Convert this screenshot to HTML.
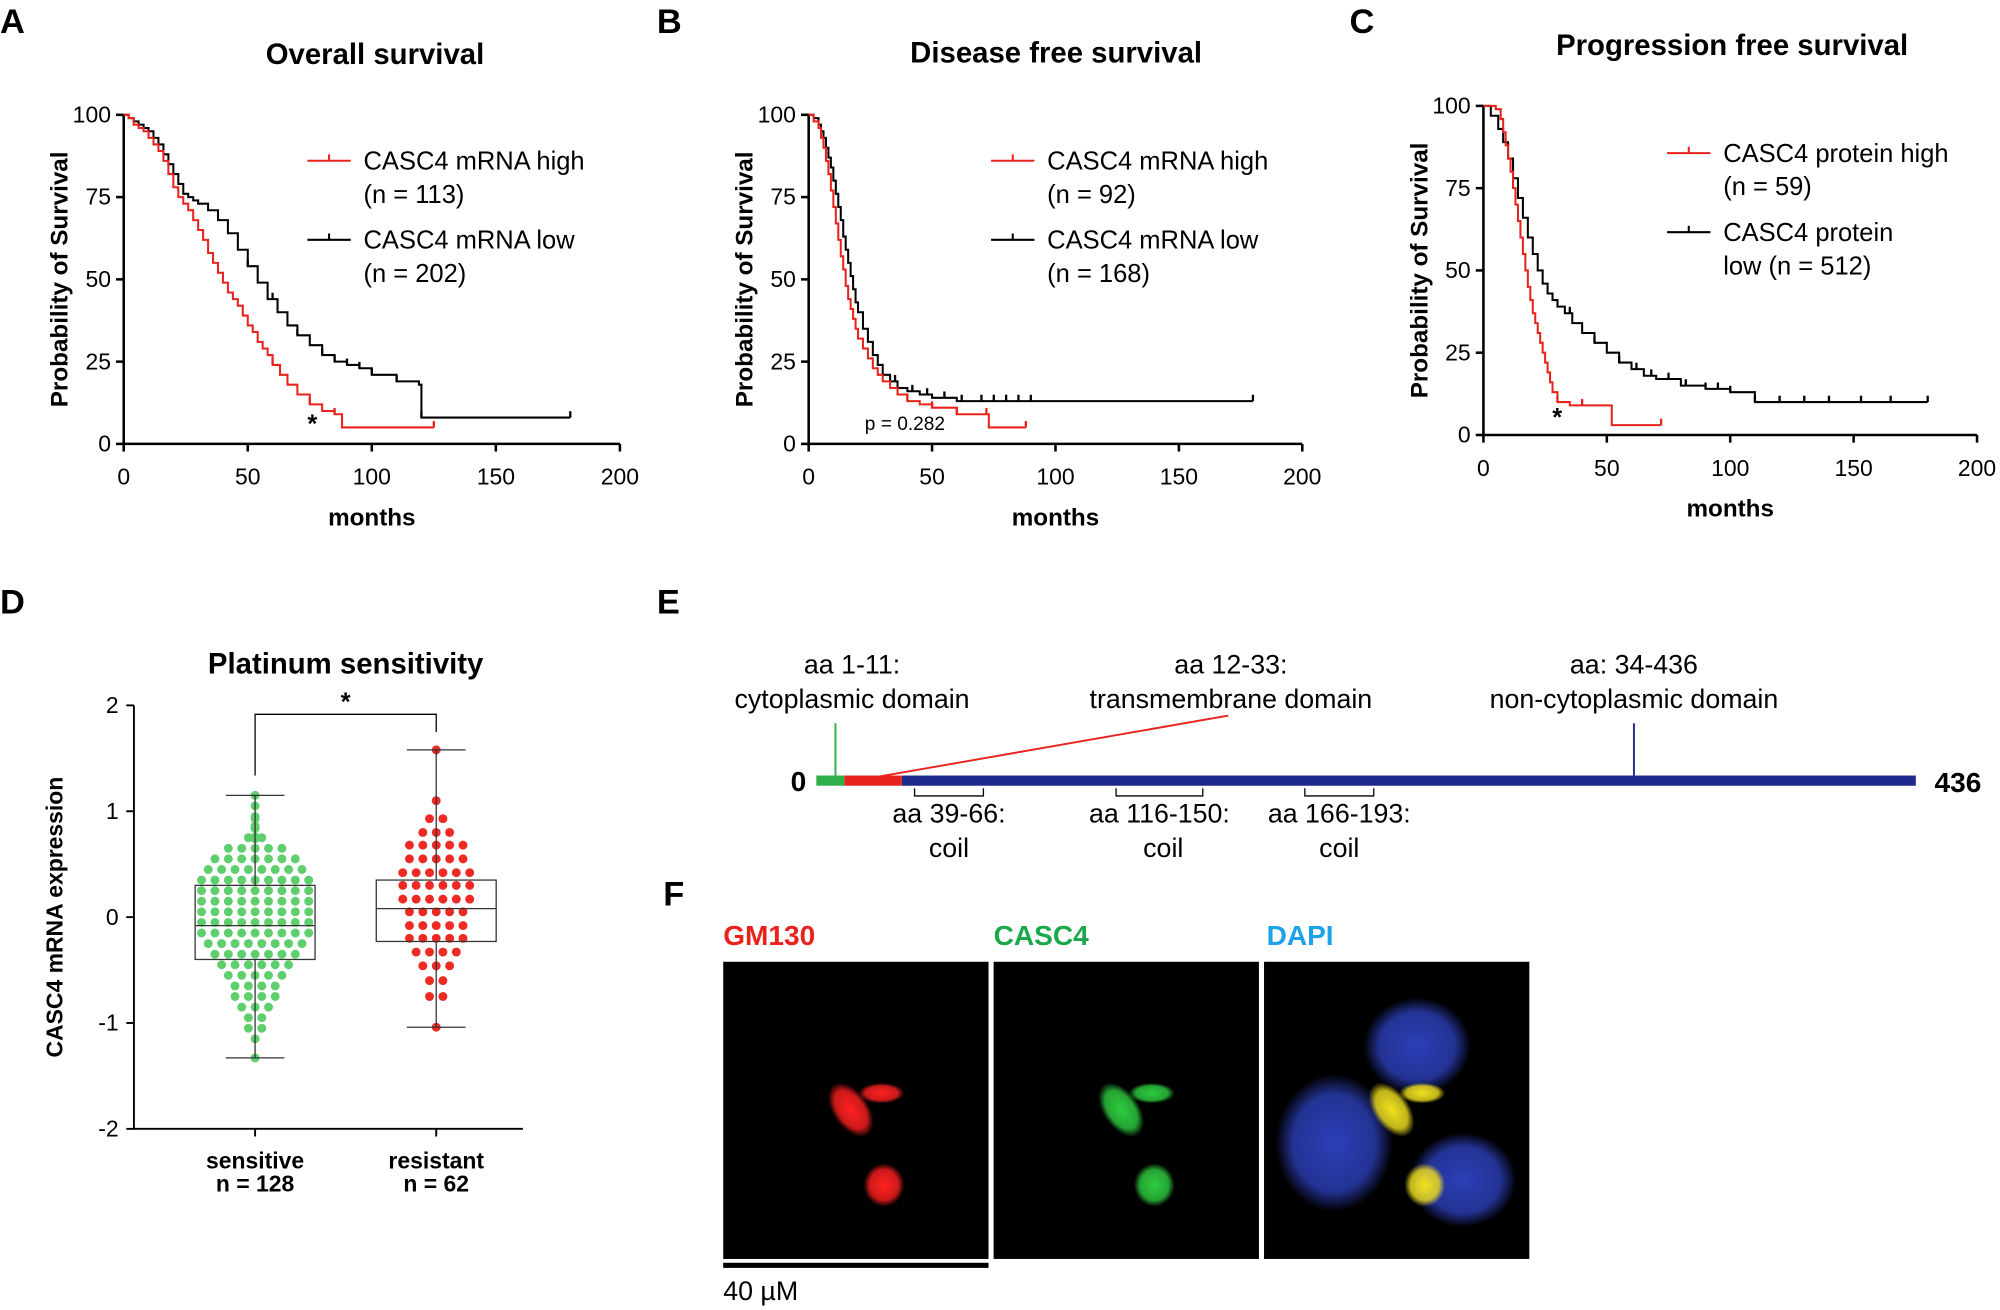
<!DOCTYPE html>
<html><head><meta charset="utf-8">
<style>
html,body{margin:0;padding:0;background:#fff;}
svg{display:block;font-family:"Liberation Sans",Arial,sans-serif;}
.t{font-size:23px;font-weight:bold;}
.tk{font-size:18px;}
.lab{font-size:19px;font-weight:bold;}
.lg{font-size:20px;}
.pl{font-size:27px;font-weight:bold;}
</style></head>
<body>
<svg id="fig" width="2000" height="1310" viewBox="0 0 1568 1027" xmlns="http://www.w3.org/2000/svg">
<g id="static" fill="#000">
<text class="pl" x="0" y="26">A</text>
<text class="pl" x="515" y="26">B</text>
<text class="pl" x="1058" y="26">C</text>
<text class="pl" x="0" y="481">D</text>
<text class="pl" x="515" y="481">E</text>
<text class="pl" x="520" y="710">F</text>

<text class="t" x="294" y="50" text-anchor="middle">Overall survival</text>
<text class="t" x="828" y="49" text-anchor="middle">Disease free survival</text>
<text class="t" x="1358" y="43" text-anchor="middle">Progression free survival</text>
<text class="t" x="271" y="528" text-anchor="middle">Platinum sensitivity</text>
</g>
<g id="dyn"></g>
</svg>
<script>
// ---- data ----
const xTicks = [0, 50, 100, 150, 200];
const yTicks = [0, 25, 50, 75, 100];
const aHighT = [0,2,4,6,8,10,12,14,16,18,20,22,24,26,28,30,32,34,36,38,40,42,44,46,48,50,52,54,56,58,60,63,66,70,75,80,85,88,90,125];
const aHighS = [100,99,97,96,95,93,91,89,86,82,78,75,73,71,68,65,62,58,55,52,49,46,44,42,39,36,34,31,29,27,24,21,18,15,12,10,9,5,5,5];
const aLowT = [0,2,4,6,8,10,12,14,16,18,20,22,24,26,28,30,34,38,42,46,50,54,58,62,66,70,75,80,85,90,95,100,110,119,120,180];
const aLowS = [100,99,98,97,96,95,93,91,88,85,82,79,76,75,74,73,71,68,64,59,54,49,44,40,36,33,30,27,25,24,23,21,19,18,8,8];
const aHighCens = [60,75,85,125];
const aLowCens = [50,60,70,80,85,90,95,100,110,120,180];
const bHighT = [0,2,4,5,6,7,8,9,10,11,12,13,14,15,16,17,18,19,20,22,24,26,28,30,33,36,40,45,50,60,72,73,88];
const bHighS = [100,98,96,93,90,86,82,77,72,67,62,57,53,48,44,41,38,35,32,29,26,23,21,19,17,15,13,12,11,9,9,5,5];
const bLowT = [0,2,4,5,6,7,8,9,10,11,12,13,14,15,16,17,18,19,20,22,24,26,28,30,33,36,40,45,50,60,80,180];
const bLowS = [100,99,97,95,93,90,87,84,80,76,72,68,63,59,55,51,47,43,40,35,31,27,24,21,19,17,16,15,14,13,13,13];
const bHighCens = [40,50,60,72,88];
const bLowCens = [35,42,48,55,62,70,75,80,85,90,180];
const cHighT = [0,5,7,8,9,10,11,12,13,14,15,16,17,18,19,20,21,22,23,24,25,26,27,28,30,35,50,52,72];
const cHighS = [100,99,96,92,88,84,80,75,70,65,60,55,50,45,41,37,34,31,28,25,22,19,16,13,10,9,9,3,3];
const cLowT = [0,3,6,8,10,12,14,16,18,20,22,24,26,28,30,33,36,40,45,50,55,60,65,70,80,90,100,110,180];
const cLowS = [100,97,93,89,84,78,72,66,60,55,50,46,43,41,39,37,34,31,28,25,22,20,18,17,15,14,13,10,10];
const cHighCens = [30,40,72];
const cLowCens = [35,45,55,62,68,75,82,90,95,100,110,120,130,140,153,165,180];
const dTicks = [-2,-1,0,1,2];
const sensVals = [1.15,1.05,0.95,0.93,0.85,0.84,0.86,0.75,0.74,0.76,0.75,
 0.65,0.65,0.65,0.65,0.65,0.55,0.55,0.55,0.55,0.55,0.55,0.55,
 0.45,0.45,0.45,0.45,0.45,0.45,0.45,0.45,
 0.35,0.35,0.35,0.35,0.35,0.35,0.35,0.35,0.35,
 0.25,0.25,0.25,0.25,0.25,0.25,0.25,0.25,0.25,
 0.15,0.15,0.15,0.15,0.15,0.15,0.15,0.15,0.15,
 0.05,0.05,0.05,0.05,0.05,0.05,0.05,0.05,0.05,
 -0.05,-0.05,-0.05,-0.05,-0.05,-0.05,-0.05,-0.05,-0.05,
 -0.15,-0.15,-0.15,-0.15,-0.15,-0.15,-0.15,-0.15,-0.15,
 -0.25,-0.25,-0.25,-0.25,-0.25,-0.25,-0.25,-0.25,
 -0.35,-0.35,-0.35,-0.35,-0.35,-0.35,-0.35,
 -0.45,-0.45,-0.45,-0.45,-0.45,-0.45,
 -0.55,-0.55,-0.55,-0.55,-0.55,-0.65,-0.65,-0.65,-0.65,
 -0.75,-0.75,-0.75,-0.75,-0.85,-0.85,-0.85,-0.95,-0.95,-1.05,-1.05,-1.15,-1.33];
const resVals = [1.58,1.1,0.93,0.93,0.8,0.8,0.8,0.68,0.68,0.68,0.68,0.68,
 0.55,0.55,0.55,0.55,0.55,0.42,0.42,0.42,0.42,0.42,0.42,
 0.3,0.3,0.3,0.3,0.3,0.3,0.17,0.17,0.17,0.17,0.17,0.17,
 0.05,0.05,0.05,0.05,0.05,-0.08,-0.08,-0.08,-0.08,-0.08,
 -0.2,-0.2,-0.2,-0.2,-0.2,-0.33,-0.33,-0.33,-0.33,-0.46,-0.46,-0.46,-0.6,-0.6,-0.75,-0.75,-1.04];
const sensBox = [-1.33,-0.4,-0.08,0.3,1.15];
const resBox = [-1.04,-0.23,0.08,0.35,1.58];

const NS = "http://www.w3.org/2000/svg";
const dyn = document.getElementById('dyn');
function mk(tag, attrs, parent){const e=document.createElementNS(NS,tag);for(const k in attrs)e.setAttribute(k,attrs[k]);(parent||dyn).appendChild(e);return e;}
function txt(s,attrs,parent){const e=mk('text',attrs,parent);e.textContent=s;return e;}

function kmPanel(id, x0, x1, yTop, yBot, curves, legend, pText, pPos){
  const g = mk('g',{});
  
  
  const sx = v => x0 + (x1-x0)*v/200;
  const sy = v => yBot - (yBot-yTop)*v/100;
  const ax = mk('path',{d:`M${x0} ${yTop}V${yBot}H${x1}`,stroke:'#000','stroke-width':2,fill:'none'},g);
  
  xTicks.forEach(t=>{
    mk('line',{x1:sx(t),x2:sx(t),y1:yBot,y2:yBot+6,stroke:'#000','stroke-width':2},g);
    const l=txt(t,{x:sx(t),y:yBot+32,'text-anchor':'middle','class':'tk'},g);
    
  });
  yTicks.forEach(t=>{
    mk('line',{x1:x0-6,x2:x0,y1:sy(t),y2:sy(t),stroke:'#000','stroke-width':2},g);
    const l=txt(t,{x:x0-10,y:sy(t)+6,'text-anchor':'end','class':'tk'},g);
    
  });
  const xt=txt('months',{x:(x0+x1)/2,y:yBot+64,'text-anchor':'middle','class':'lab'},g);
  
  const yt=txt('Probability of Survival',{x:0,y:0,'text-anchor':'middle','class':'lab',transform:`translate(${x0-44},${(yTop+yBot)/2}) rotate(-90)`},g);
  
  curves.forEach(c=>{
    let d=`M${sx(c.t[0])} ${sy(c.s[0])}`;
    for(let i=1;i<c.t.length;i++){d+=`H${sx(c.t[i])}V${sy(c.s[i])}`;}
    const p=mk('path',{d:d,stroke:c.col,'stroke-width':1.6,fill:'none'},g);
    
    
    c.cens.forEach(tc=>{
      let v=c.s[0];
      for(let i=0;i<c.t.length;i++){if(c.t[i]<=tc)v=c.s[i];}
      const m=mk('line',{x1:sx(tc),x2:sx(tc),y1:sy(v)-5,y2:sy(v),stroke:c.col,'stroke-width':1.8},g);
      
    });
  });
  legend.forEach(L=>{
    const lg=mk('g',{},g);
    
    
    mk('line',{x1:L.x,x2:L.x+34,y1:L.y,y2:L.y,stroke:L.col,'stroke-width':1.6},lg);
    mk('line',{x1:L.x+17,x2:L.x+17,y1:L.y-5,y2:L.y,stroke:L.col,'stroke-width':1.6},lg);
    txt(L.l1,{x:L.x+44,y:L.y+7,'class':'lg'},lg);
    txt(L.l2,{x:L.x+44,y:L.y+33,'class':'lg'},lg);
  });
  if(pText){const p=txt(pText,{x:pPos[0],y:pPos[1],'class':pText==='*'?'lab':'tk',style:pText==='*'?'font-size:20px':'font-size:15px'},g);
    }
}
kmPanel('overall-survival',97,486,90,348,
 [{t:aLowT,s:aLowS,cens:aLowCens,col:'#000',name:'series-mrna-low'},{t:aHighT,s:aHighS,cens:aHighCens,col:'#e8231d',name:'series-mrna-high'}],
 [{x:241,y:126,col:'#e8231d',l1:'CASC4 mRNA high',l2:'(n = 113)'},{x:241,y:188,col:'#000',l1:'CASC4 mRNA low',l2:'(n = 202)'}],'*',[241,339]);
kmPanel('disease-free-survival',634,1021,90,348,
 [{t:bLowT,s:bLowS,cens:bLowCens,col:'#000',name:'series-mrna-low'},{t:bHighT,s:bHighS,cens:bHighCens,col:'#e8231d',name:'series-mrna-high'}],
 [{x:777,y:126,col:'#e8231d',l1:'CASC4 mRNA high',l2:'(n = 92)'},{x:777,y:188,col:'#000',l1:'CASC4 mRNA low',l2:'(n = 168)'}],'p = 0.282',[678,337]);
kmPanel('progression-free-survival',1163,1550,83,341,
 [{t:cLowT,s:cLowS,cens:cLowCens,col:'#000',name:'series-protein-low'},{t:cHighT,s:cHighS,cens:cHighCens,col:'#e8231d',name:'series-protein-high'}],
 [{x:1307,y:120,col:'#e8231d',l1:'CASC4 protein high',l2:'(n = 59)'},{x:1307,y:182,col:'#000',l1:'CASC4 protein',l2:'low (n = 512)'}],'*',[1217,334]);

// ---- Panel D ----
(function(){
  const g=mk('g',{});
  
  
  const x0=105, x1=410, y0=719, per=83;
  const sy=v=>y0-v*per;
  const ax=mk('path',{d:`M${x0} ${sy(2)}V${sy(-2)}H${x1}`,stroke:'#000','stroke-width':1.5,fill:'none'},g);
  
  dTicks.forEach(t=>{
    mk('line',{x1:x0-6,x2:x0,y1:sy(t),y2:sy(t),stroke:'#000','stroke-width':1.5},g);
    const l=txt(t,{x:x0-12,y:sy(t)+6,'text-anchor':'end','class':'tk'},g);
    
  });
  const yt=txt('CASC4 mRNA expression',{x:0,y:0,'text-anchor':'middle','class':'lab',style:'font-size:18px',transform:`translate(49,${sy(0)}) rotate(-90)`},g);
  
  const groups=[{c:200,vals:sensVals,box:sensBox,col:'#5fcf6e',lab:'sensitive',n:'n = 128'},{c:342,vals:resVals,box:resBox,col:'#ee2a24',lab:'resistant',n:'n = 62'}];
  groups.forEach(G=>{
    mk('line',{x1:G.c,x2:G.c,y1:sy(-2),y2:sy(-2)+6,stroke:'#000','stroke-width':1.5},g);
    const l=txt(G.lab,{x:G.c,y:916,'text-anchor':'middle','class':'lab',style:'font-size:18px'},g);
    
    txt(G.n,{x:G.c,y:934,'text-anchor':'middle','class':'lab',style:'font-size:18px'},g);
    const counts={};
    G.vals.forEach(v=>{counts[v]=(counts[v]||0)+1;});
    const seen={};
    G.vals.forEach(v=>{
      const n=counts[v]; const i=seen[v]||0; seen[v]=i+1;
      const c=mk('circle',{cx:G.c+(i-(n-1)/2)*10.5,cy:sy(v),r:3.5,fill:G.col},g);
      
    });
    const b=G.box;
    const bx=mk('g',{fill:'none',stroke:'#333','stroke-width':1},g);
    
    mk('rect',{x:G.c-47,y:sy(b[3]),width:94,height:sy(b[1])-sy(b[3])},bx);
    mk('line',{x1:G.c-47,x2:G.c+47,y1:sy(b[2]),y2:sy(b[2])},bx);
    mk('line',{x1:G.c,x2:G.c,y1:sy(b[4]),y2:sy(b[3])},bx);
    mk('line',{x1:G.c,x2:G.c,y1:sy(b[1]),y2:sy(b[0])},bx);
    mk('line',{x1:G.c-23,x2:G.c+23,y1:sy(b[4]),y2:sy(b[4])},bx);
    mk('line',{x1:G.c-23,x2:G.c+23,y1:sy(b[0]),y2:sy(b[0])},bx);
  });
  const br=mk('path',{d:'M200 608V560H342V574',stroke:'#000','stroke-width':1,fill:'none'},g);
  
  const st=txt('*',{x:271,y:557,'text-anchor':'middle','class':'lab',style:'font-size:20px'},g);
  
})();

// ---- Panel E ----
(function(){
  const g=mk('g',{});
  
  
  const seg=[[640,662,'#2eb04a','cytoplasmic-segment'],[662,707,'#e8231d','transmembrane-segment'],[707,1502,'#1e2a8c','non-cytoplasmic-segment']];
  seg.forEach(s=>{const r=mk('rect',{x:s[0],y:608,width:s[1]-s[0],height:8,fill:s[2]},g);});
  txt('0',{x:626,y:620,'text-anchor':'middle','class':'pl',style:'font-size:22px'},g);
  txt('436',{x:1535,y:621,'text-anchor':'middle','class':'pl',style:'font-size:22px'},g);
  mk('line',{x1:655,x2:655,y1:567,y2:608,stroke:'#2eb04a','stroke-width':1.5},g);
  mk('line',{x1:963,x2:688,y1:561,y2:609,stroke:'#e8231d','stroke-width':1.5},g);
  mk('line',{x1:1281,x2:1281,y1:567,y2:608,stroke:'#1e2a8c','stroke-width':1.5},g);
  const lbl=[['aa 1-11:',668,528],['cytoplasmic domain',668,555],['aa 12-33:',965,528],['transmembrane domain',965,555],['aa: 34-436',1281,528],['non-cytoplasmic domain',1281,555],
   ['aa 39-66:',744,645],['coil',744,672],['aa 116-150:',909,645],['coil',912,672],['aa 166-193:',1050,645],['coil',1050,672]];
  lbl.forEach(L=>{const t=txt(L[0],{x:L[1],y:L[2],'text-anchor':'middle','class':'lg',style:'font-size:21px'},g);});
  [[717,771],[875,943],[1023,1077]].forEach(c=>{const p=mk('path',{d:`M${c[0]} 618V624H${c[1]}V618`,stroke:'#000',fill:'none','stroke-width':1},g);});
})();

// ---- Panel F ----
(function(){
  const g=mk('g',{});
  
  
  const defs=mk('defs',{},g);
  function grad(id,col){const rg=mk('radialGradient',{id:id},defs);mk('stop',{offset:'0%','stop-color':col,'stop-opacity':1},rg);mk('stop',{offset:'70%','stop-color':col,'stop-opacity':0.8},rg);mk('stop',{offset:'100%','stop-color':col,'stop-opacity':0},rg);}
  grad('gr','#ff2020');grad('gg','#2ecc40');grad('gb','#2c3fb8');grad('gy','#f0e020');
  const hdr=[['GM130',567,'#e8231d'],['CASC4',779,'#1aa84a'],['DAPI',993,'#1aa3e8']];
  hdr.forEach(h=>{const t=txt(h[0],{x:h[1],y:741,'class':'lab',style:`font-size:22px;fill:${h[2]}`},g);});
  [567,779,991].forEach((x,i)=>{const r=mk('rect',{x:x,y:754,width:208,height:233,fill:'#000'},g);});
  function blobs(dx,grd){
    mk('ellipse',{cx:dx+100,cy:870,rx:14,ry:24,fill:`url(#${grd})`,transform:`rotate(-35 ${dx+100} 870)`},g);
    mk('ellipse',{cx:dx+124,cy:857,rx:18,ry:8,fill:`url(#${grd})`},g);
    mk('ellipse',{cx:dx+126,cy:929,rx:16,ry:17,fill:`url(#${grd})`},g);
  }
  blobs(567,'gr');blobs(779,'gg');
  mk('ellipse',{cx:1111,cy:820,rx:42,ry:38,fill:'url(#gb)'},g);
  mk('ellipse',{cx:1046,cy:896,rx:46,ry:54,fill:'url(#gb)'},g);
  mk('ellipse',{cx:1147,cy:925,rx:42,ry:37,fill:'url(#gb)'},g);
  blobs(991,'gy');
  const sb=mk('rect',{x:567,y:990,width:208,height:4,fill:'#000'},g);
  
  txt('40 µM',{x:567,y:1019,'class':'lg',style:'font-size:21px'},g);
})();
</script>
</body></html>
